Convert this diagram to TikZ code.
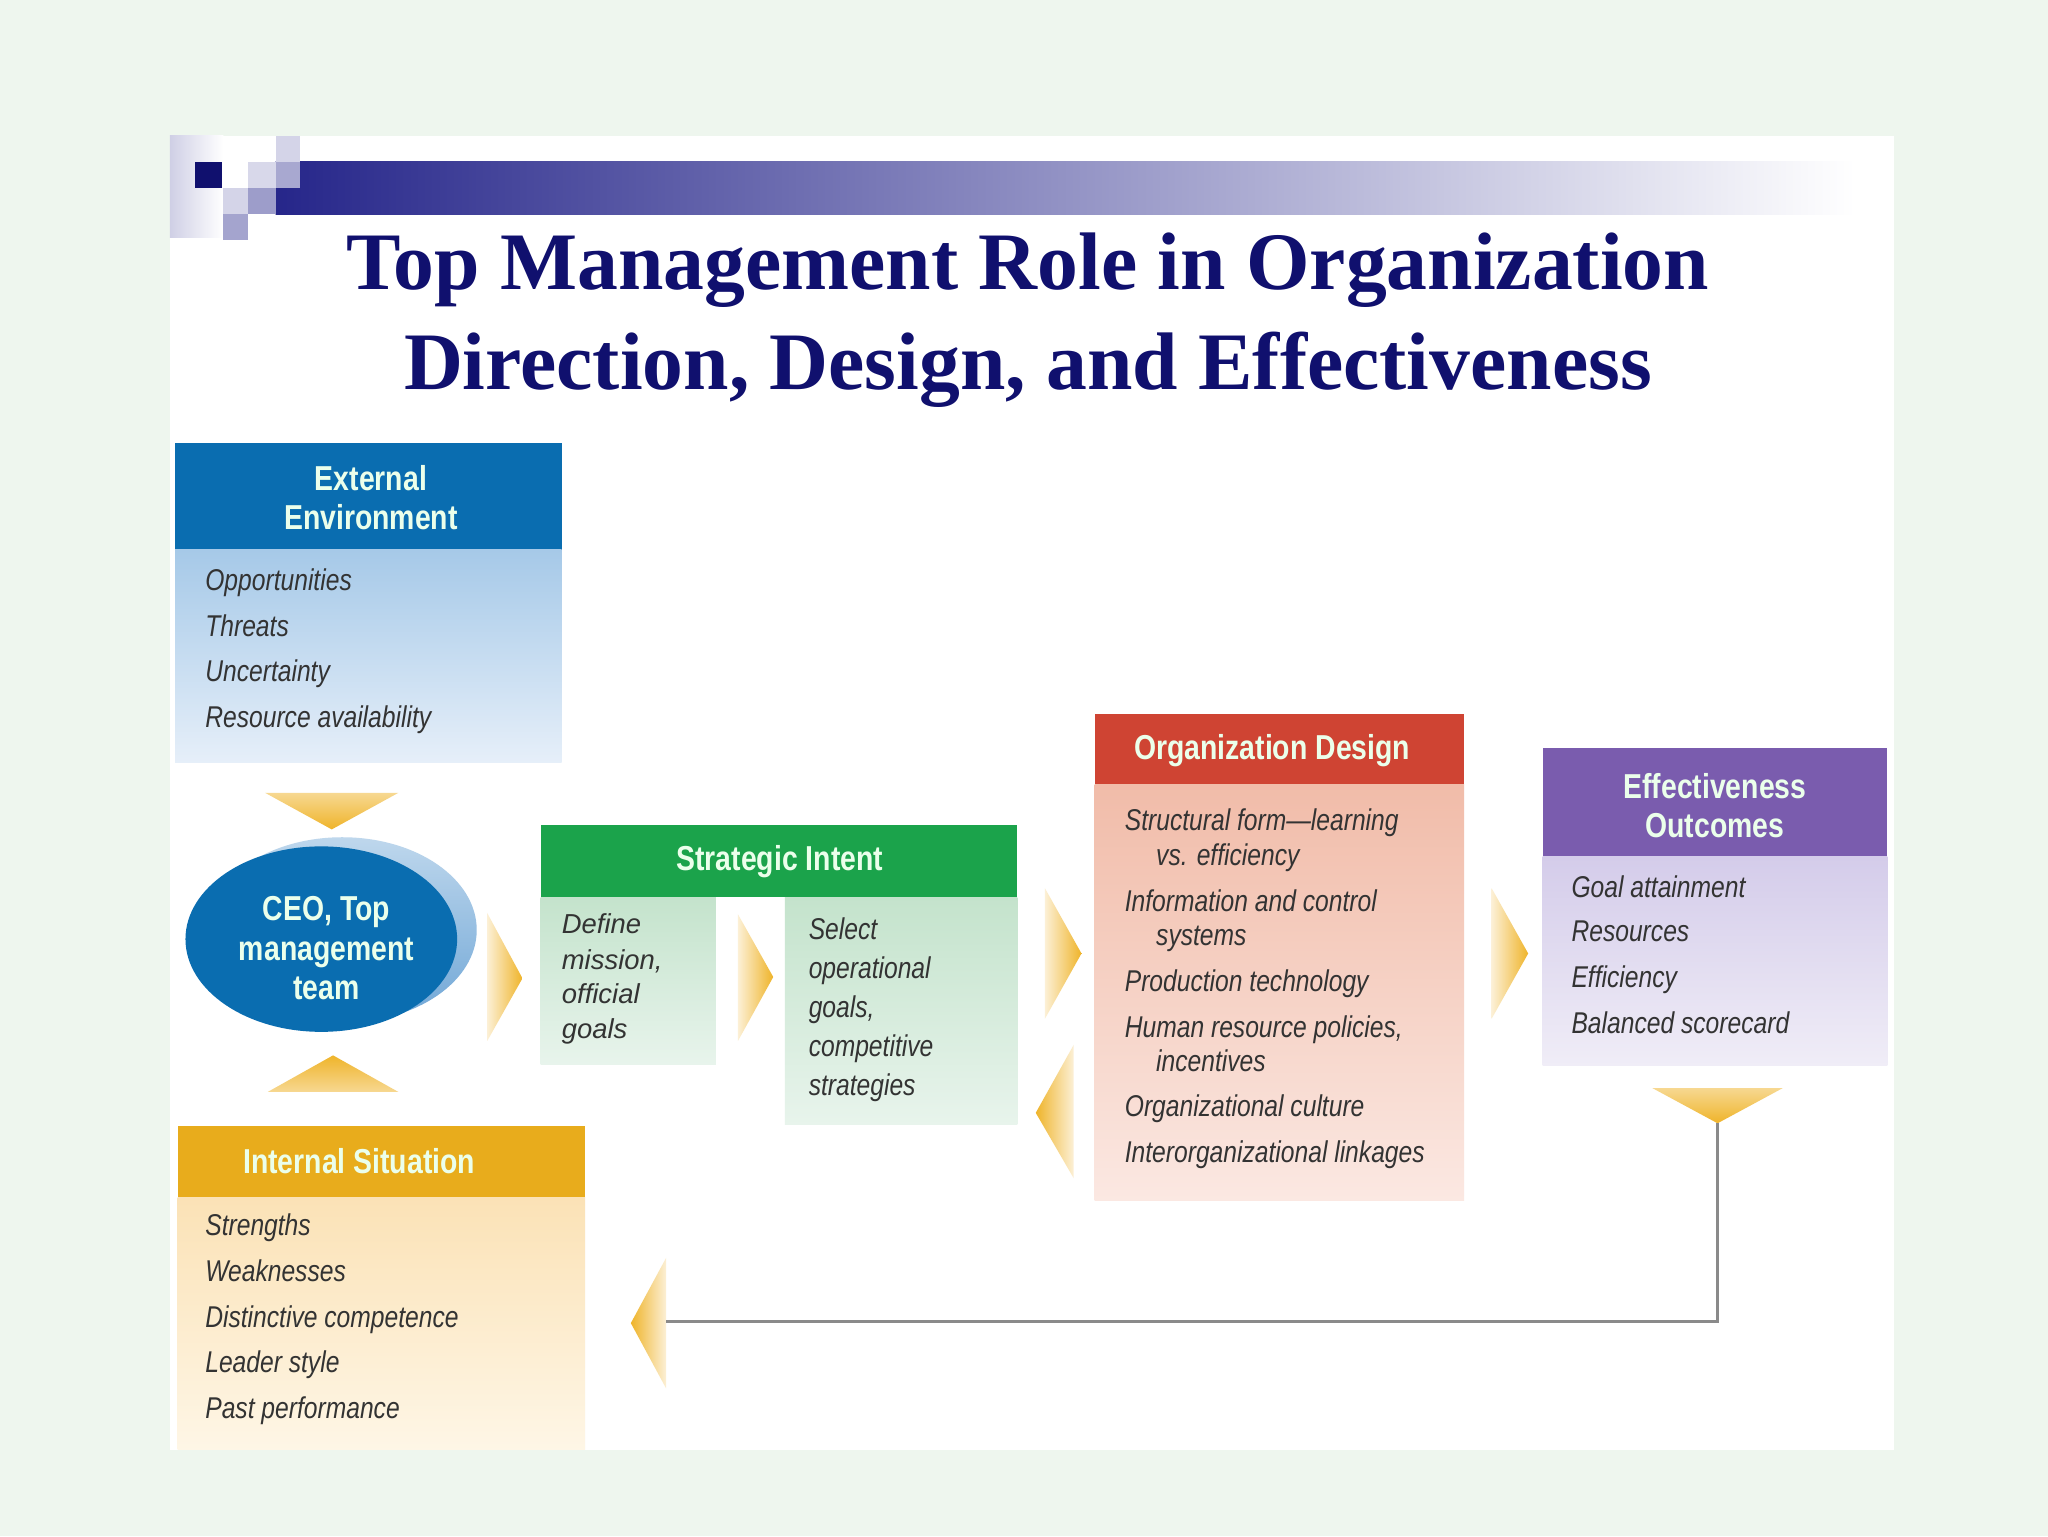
\documentclass[tikz,border=0pt]{standalone}
\usepackage{fontspec}
\setmainfont{Liberation Serif}
\newfontfamily\condsans[FakeStretch=0.82,Ligatures=TeX]{Liberation Sans}
\newfontfamily\plainsans[Ligatures=TeX]{Liberation Sans}
\usetikzlibrary{positioning,calc}

\definecolor{mint}{HTML}{EEF6EE}
\definecolor{navy}{HTML}{10106E}
\definecolor{barnavy}{HTML}{26268A}
\definecolor{extblue}{HTML}{0A6DB0}
\definecolor{exttop}{HTML}{A6C9E8}
\definecolor{extbot}{HTML}{E6EFF9}
\definecolor{sigreen}{HTML}{1BA34B}
\definecolor{sitop}{HTML}{C4E3CC}
\definecolor{sibot}{HTML}{E8F4EC}
\definecolor{odred}{HTML}{CF4433}
\definecolor{odtop}{HTML}{F1BCA9}
\definecolor{odbot}{HTML}{FBE8E2}
\definecolor{eopurple}{HTML}{7A5CAE}
\definecolor{eotop}{HTML}{D4CCEA}
\definecolor{eobot}{HTML}{F0EDF7}
\definecolor{isgold}{HTML}{E8AC1C}
\definecolor{istop}{HTML}{FBE2B6}
\definecolor{isbot}{HTML}{FEF6E6}
\definecolor{chgold}{HTML}{EFB42A}
\definecolor{chlight}{HTML}{FCF0D6}
\definecolor{ceorim}{HTML}{6FA6D6}
\definecolor{fbgray}{HTML}{8A8A8A}

\tikzset{
  title/.style={anchor=base, inner sep=0pt, text=navy,
    font=\bfseries\fontsize{62.5}{70}\selectfont},
  head/.style={inner sep=0pt, align=center, text=white!92!green,
    font=\condsans\bfseries\fontsize{26.5}{30}\selectfont},
  item/.style={anchor=base west, inner sep=0pt, text=black!80,
    font=\condsans\itshape\fontsize{23}{28}\selectfont},
  wideitem/.style={item, font=\plainsans\itshape\fontsize{21}{26}\selectfont},
  chevright/.style={left color=chlight, right color=chgold},
  chevleft/.style={left color=chgold, right color=chlight},
  chevdown/.style={top color=chlight!60!chgold, bottom color=chgold},
  chevup/.style={top color=chgold, bottom color=chlight!60!chgold},
}

\begin{document}
\begin{tikzpicture}[x=1pt, y=-1pt]
  \useasboundingbox (0,0) rectangle (1568,1176);
  \fill[mint] (0,0) rectangle (1568,1176);
  \fill[white] (130,104) rectangle (1450,1110);

  % corner squares and bar
  \shade[left color=barnavy!22, right color=white] (130,104) rectangle (171,182);
  \shade[left color=barnavy, middle color=barnavy!58, right color=white] (211,124) rectangle (1420,164);
  \fill[barnavy!20] (211,104) rectangle (230,124);
  \fill[barnavy!18] (190,124) rectangle (211,144);
  \fill[barnavy!40] (211,124) rectangle (230,144);
  \fill[navy] (149,124) rectangle (170,144);
  \fill[barnavy!20] (171,144) rectangle (190,164);
  \fill[barnavy!45] (190,144) rectangle (211,164);
  \fill[barnavy!42] (171,164) rectangle (190,184);

  \node[title] (title1) at (787,222) {Top Management Role in Organization};
  \node[title] (title2) at (787,298) {Direction, Design, and Effectiveness};

  % external environment
  \fill[extblue] (134,339) rectangle (430,421);
  \shade[top color=exttop, bottom color=extbot] (134,421) rectangle (430,584);
  \node[head] (exthead) at (284,381) {External\\Environment};
  \foreach \y/\t [count=\i] in {452/Opportunities, 487/Threats, 522/Uncertainty, 557/Resource availability}
    \node[item] (ext\i) at (157,\y) {\t};

  % CEO
  \shade[top color=ceorim!45, bottom color=ceorim] (262,712) ellipse [x radius=103, y radius=71];
  \fill[extblue] (246,719) ellipse [x radius=104, y radius=71];
  \node[head] (ceo) at (250,726) {CEO, Top\\management\\team};

  % strategic intent
  \fill[sigreen] (414,632) rectangle (779,687);
  \shade[top color=sitop, bottom color=sibot] (414,687) rectangle (548,815);
  \shade[top color=sitop, bottom color=sibot] (601,687) rectangle (779,861);
  \node[head] (sihead) at (597,660) {Strategic Intent};
  \foreach \y/\t [count=\i] in {715/Define, 742/{mission,}, 768/official, 795/goals}
    \node[wideitem] (def\i) at (430,\y) {\t};
  \foreach \y/\t [count=\i] in {719/Select, 749/operational, 779/{goals,}, 809/competitive, 839/strategies}
    \node[item] (sel\i) at (619,\y) {\t};

  % organization design
  \fill[odred] (838,547) rectangle (1121,601);
  \shade[top color=odtop, bottom color=odbot] (838,601) rectangle (1121,919);
  \node[head] (odhead) at (974,575) {Organization Design};
  \foreach \x/\y/\t [count=\i] in {861/636/Structural form—learning, 885/663/vs. efficiency,
      861/698/Information and control, 885/724/systems, 861/759/Production technology,
      861/794/{Human resource policies,}, 885/820/incentives, 861/855/Organizational culture,
      861/890/Interorganizational linkages}
    \node[item] (od\i) at (\x,\y) {\t};

  % effectiveness outcomes
  \fill[eopurple] (1181,573) rectangle (1445,656);
  \shade[top color=eotop, bottom color=eobot] (1181,656) rectangle (1445,816);
  \node[head] (eohead) at (1313,617) {Effectiveness\\Outcomes};
  \foreach \y/\t [count=\i] in {687/Goal attainment, 721/Resources, 756/Efficiency, 791/Balanced scorecard}
    \node[item] (eo\i) at (1203,\y) {\t};

  % internal situation
  \fill[isgold] (136,862) rectangle (448,917);
  \shade[top color=istop, bottom color=isbot] (136,917) rectangle (448,1110);
  \node[head] (ishead) at (275,889) {Internal Situation};
  \foreach \y/\t [count=\i] in {946/Strengths, 981/Weaknesses, 1016/Distinctive competence, 1051/Leader style, 1086/Past performance}
    \node[item] (is\i) at (157,\y) {\t};

  % chevrons
  \shade[chevdown] (203,607) -- (305,607) -- (254,635) -- cycle;
  \shade[chevup] (205,836) -- (305,836) -- (255,808) -- cycle;
  \shade[chevright] (373,699) -- (400,749) -- (373,797) -- cycle;
  \shade[chevright] (565,700) -- (592,748) -- (565,797) -- cycle;
  \shade[chevright] (800,680) -- (828,730) -- (800,780) -- cycle;
  \shade[chevleft] (822,800) -- (793,852) -- (822,902) -- cycle;
  \shade[chevright] (1142,680) -- (1170,730) -- (1142,780) -- cycle;
  \shade[chevleft] (510,963) -- (483,1013) -- (510,1063) -- cycle;
  \shade[chevdown] (1265,833) -- (1365,833) -- (1315,860) -- cycle;

  % feedback
  \coordinate (fbstart) at (1315,860);
  \coordinate (fbend) at (510,1012);
  \draw[fbgray, line width=2.5pt] (fbstart) |- (fbend);
\end{tikzpicture}
\end{document}
